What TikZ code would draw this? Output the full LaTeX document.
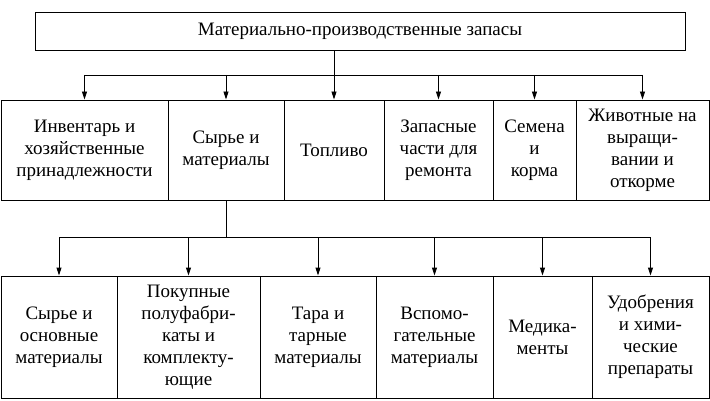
\documentclass[tikz,border=0pt]{standalone}
\usepackage{fontspec}
\setmainfont{Liberation Serif}
\usetikzlibrary{arrows.meta,positioning}
\tikzset{
  >={Triangle[length=8pt,width=5pt]},
  every picture/.append style={line width=0.9pt},
  every node/.append style={font=\fontsize{19}{22}\selectfont},
  box/.style={draw, align=center, inner sep=2pt},
  arrow/.style={->}
}
\begin{document}
\begin{tikzpicture}[x=1pt, y=-1pt,
  toprow/.style={box, minimum height=100pt},
  botrow/.style={box, minimum height=122pt}
]
\useasboundingbox (0,0) rectangle (710,401);

\node[box, minimum width=650pt, minimum height=38pt] (root) at (360,31) {Материально-производственные запасы};

% middle row
\node[toprow, minimum width=167pt] (inv)   at (84.5,150)  {Инвентарь и\\хозяйственные\\принадлежности};
\node[toprow, minimum width=116pt] (raw)   at (226,150)   {Сырье и\\материалы};
\node[toprow, minimum width=100pt] (fuel)  at (334,150)   {Топливо};
\node[toprow, minimum width=109pt] (parts) at (438.5,150) {Запасные\\части для\\ремонта};
\node[toprow, minimum width=83pt]  (seed)  at (534.5,150) {Семена\\и\\корма};
\node[toprow, minimum width=133pt] (anim)  at (642.5,150) {Животные на\\выращи-\\вании и\\откорме};

% bottom row
\node[botrow, minimum width=116pt] (base)  at (59,337)    {Сырье и\\основные\\материалы};
\node[botrow, minimum width=143pt] (semi)  at (188.5,337) {Покупные\\полуфабри-\\каты и\\комплекту-\\ющие};
\node[botrow, minimum width=116pt] (pack)  at (318,337)   {Тара и\\тарные\\материалы};
\node[botrow, minimum width=117pt] (aux)   at (434.5,337) {Вспомо-\\гательные\\материалы};
\node[botrow, minimum width=99pt]  (med)   at (542.5,337) {Медика-\\менты};
\node[botrow, minimum width=117pt] (fert)  at (650.5,337) {Удобрения\\и хими-\\ческие\\препараты};

% connectors
\coordinate (busA) at (334,75);
\coordinate (busB) at (226,237);
\draw (busA |- root.south) -- (busA);
\draw (inv.north |- busA) -- (anim.north |- busA);
\foreach \n in {inv,raw,fuel,parts,seed,anim}
  \draw[arrow] (\n.north |- busA) -- (\n.north);
\draw (raw.south) -- (busB);
\draw (base.north |- busB) -- (fert.north |- busB);
\foreach \n in {base,semi,pack,aux,med,fert}
  \draw[arrow] (\n.north |- busB) -- (\n.north);
\end{tikzpicture}
\end{document}
